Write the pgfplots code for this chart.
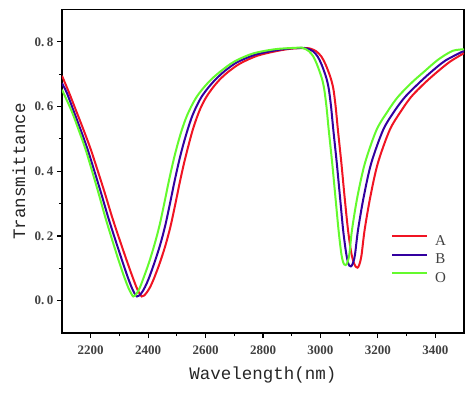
\documentclass[border=0pt]{standalone}
\usepackage{pgfplots}
\pgfplotsset{compat=1.18}
\usepackage{fontspec}
\setmainfont{Liberation Serif}
\newfontfamily\monofont{Liberation Mono}
\definecolor{cA}{RGB}{240,20,35}
\definecolor{cB}{RGB}{50,0,160}
\definecolor{cO}{RGB}{100,250,45}
\pgfplotstableread{
x y
2100 0.695
2125 0.642
2150 0.585
2175 0.528
2200 0.468
2225 0.400
2250 0.330
2275 0.257
2300 0.190
2325 0.125
2345 0.075
2360 0.040
2370 0.022
2378 0.013
2386 0.016
2395 0.025
2407 0.042
2420 0.068
2440 0.115
2460 0.170
2478 0.230
2495 0.300
2510 0.365
2525 0.425
2540 0.478
2555 0.527
2570 0.567
2585 0.600
2603 0.630
2625 0.658
2650 0.684
2680 0.708
2720 0.733
2780 0.757
2850 0.772
2900 0.779
2945 0.781
2965 0.779
2985 0.771
3003 0.755
3018 0.730
3035 0.690
3045 0.655
3053 0.600
3061 0.527
3073 0.425
3084 0.322
3096 0.219
3107 0.150
3116 0.118
3123 0.105
3129 0.102
3135 0.110
3143 0.140
3154 0.219
3174 0.322
3200 0.425
3241 0.527
3280 0.585
3316 0.630
3360 0.670
3400 0.702
3450 0.738
3500 0.765
}\dataA
\pgfplotstableread{
x y
2100 0.672
2117 0.642
2141 0.585
2165 0.528
2189 0.468
2213 0.400
2237 0.330
2261 0.257
2285 0.190
2309 0.125
2328 0.075
2343 0.040
2353 0.022
2361 0.013
2369 0.016
2378 0.025
2389 0.042
2402 0.068
2421 0.115
2441 0.170
2459 0.230
2476 0.300
2491 0.365
2506 0.425
2521 0.478
2537 0.527
2552 0.567
2568 0.600
2586 0.630
2609 0.658
2635 0.684
2667 0.710
2710 0.737
2772 0.760
2845 0.774
2900 0.780
2940 0.781
2955 0.779
2974 0.771
2990 0.755
3004 0.730
3020 0.690
3029 0.655
3037 0.600
3045 0.527
3057 0.425
3068 0.322
3079 0.219
3089 0.150
3096 0.118
3101 0.108
3106 0.106
3112 0.113
3120 0.140
3131 0.219
3151 0.322
3177 0.425
3218 0.527
3257 0.585
3295 0.630
3340 0.670
3383 0.705
3435 0.742
3500 0.772
}\dataB
\pgfplotstableread{
x y
2100 0.652
2134 0.585
2158 0.528
2182 0.468
2205 0.400
2228 0.330
2251 0.257
2274 0.190
2297 0.125
2316 0.075
2331 0.040
2341 0.022
2348 0.013
2355 0.016
2362 0.025
2372 0.042
2383 0.068
2402 0.115
2421 0.170
2439 0.230
2456 0.300
2471 0.365
2486 0.425
2501 0.478
2517 0.527
2533 0.567
2550 0.600
2569 0.630
2593 0.658
2620 0.684
2654 0.710
2700 0.739
2765 0.764
2840 0.777
2900 0.781
2935 0.782
2945 0.779
2960 0.771
2975 0.755
2988 0.730
3004 0.690
3013 0.655
3021 0.600
3029 0.527
3041 0.425
3052 0.322
3063 0.219
3072 0.150
3078 0.122
3083 0.112
3088 0.110
3094 0.118
3101 0.145
3110 0.219
3129 0.322
3155 0.425
3195 0.527
3234 0.585
3270 0.630
3318 0.674
3360 0.707
3410 0.745
3460 0.772
3500 0.777
}\dataO
\begin{document}
\begin{tikzpicture}
\begin{axis}[
  scale only axis, width=402pt, height=323.5pt,
  xmin=2100, xmax=3500, ymin=-0.1, ymax=0.9,
  xtick={2200,2400,2600,2800,3000,3200,3400},
  ytick={0,0.2,0.4,0.6,0.8},
  yticklabels={0.\hspace{2.5pt}0,0.\hspace{2.5pt}2,0.\hspace{2.5pt}4,0.\hspace{2.5pt}6,0.\hspace{2.5pt}8},
  minor x tick num=1, minor y tick num=1,
  tick pos=left, tick align=outside,
  major tick length=5pt, minor tick length=3pt,
  every tick/.style={black, line width=1.2pt},
  axis line style={line width=1.5pt, black},
  ticklabel style={font=\fontsize{13}{13}\selectfont\bfseries, text=black!75},
  /pgf/number format/assume math mode=true,
  xticklabel style={/pgf/number format/1000 sep={}, yshift=-4pt},
  xlabel={Wavelength(nm)}, ylabel={Transmittance},
  label style={font=\monofont\fontsize{17.5}{17.5}\selectfont, text=black!85},
  xlabel style={at={(axis description cs:0.5,-0.13)}, anchor=center},
  ylabel style={at={(axis description cs:-0.107,0.5)}, anchor=center},
  legend style={draw=none, fill=none, at={(rel axis cs:0.818,0.3085)}, anchor=north west,
    font=\fontsize{15}{15}\selectfont, text=black!75, inner sep=0pt, row sep=2.5pt,
    nodes={inner sep=1pt, text height=11pt, text depth=3pt},
    /tikz/every odd column/.append style={column sep=6pt}},
  legend image code/.code={\draw[#1] (0pt,5pt) -- (35pt,5pt);},
  every axis plot/.append style={line width=2pt, smooth, tension=0.5},
]
\addplot[cA] table {\dataA};
\addplot[cB] table {\dataB};
\addplot[cO] table {\dataO};
\legend{A,B,O}
\end{axis}
\path[use as bounding box] ([shift={(-62pt,-61pt)}]current axis.south west) rectangle ([shift={(10pt,9.5pt)}]current axis.north east);
\end{tikzpicture}
\end{document}
